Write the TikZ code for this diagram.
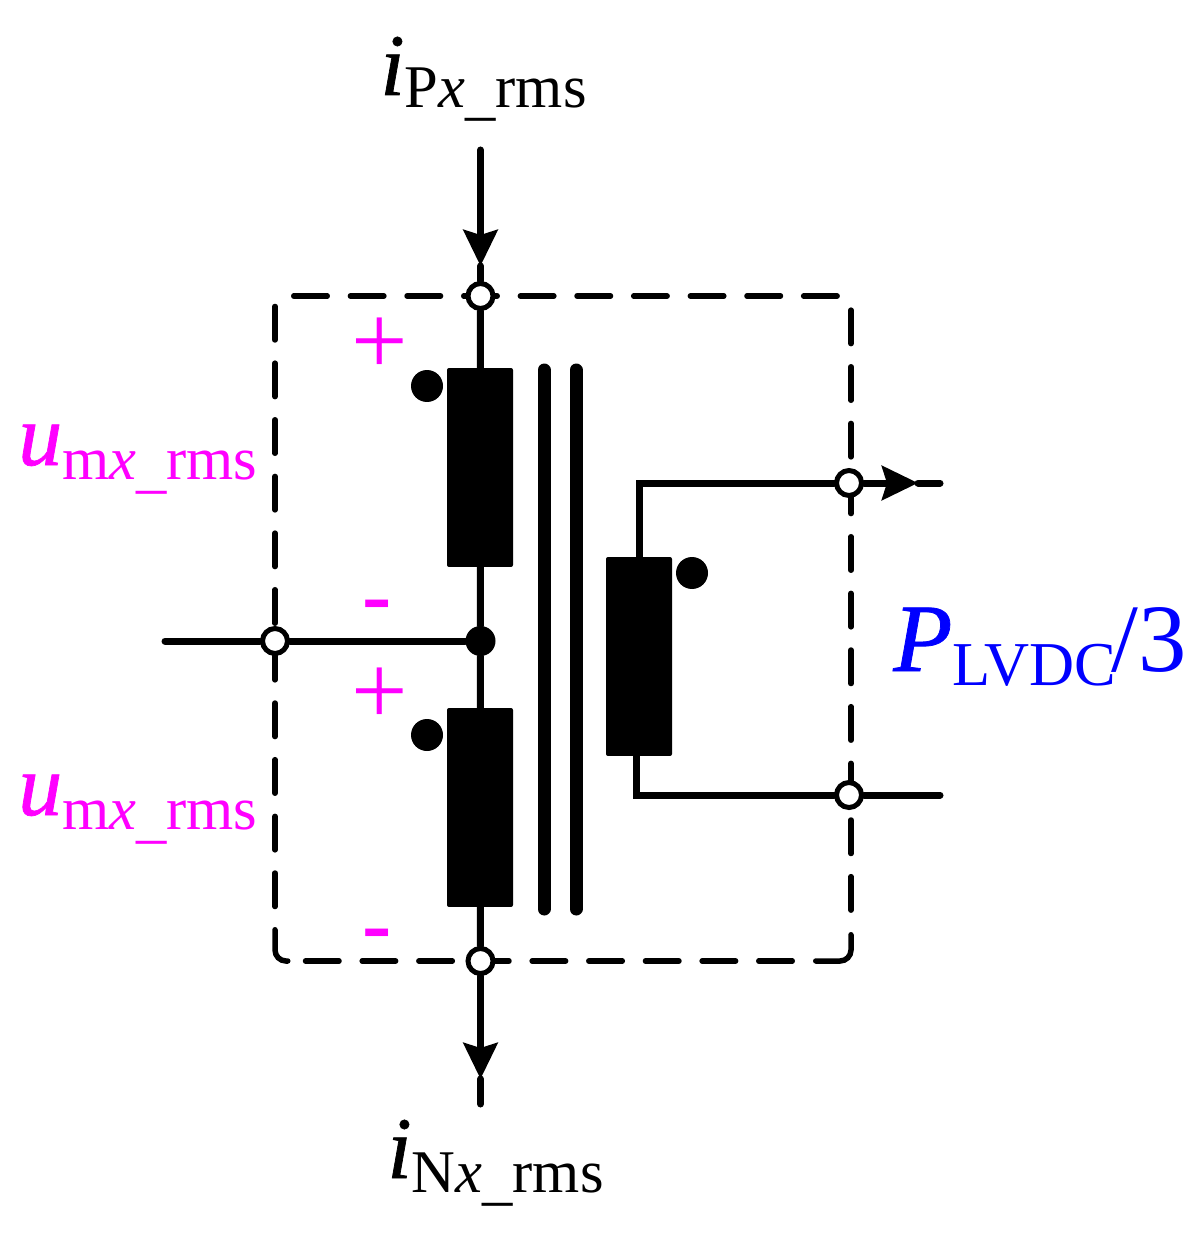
\documentclass[tikz,border=0pt]{standalone}
\usepackage{fontspec}
\setmainfont{Liberation Serif}
\newfontface\heavyitalic[FakeBold=0.8]{Liberation Serif Italic}
\usetikzlibrary{arrows.meta}

\definecolor{voltagecolor}{RGB}{255,0,255}
\definecolor{powercolor}{RGB}{0,0,255}
\newcommand{\mainsub}[4]{{\fontsize{#1}{#1}\heavyitalic #2}\raisebox{#3}{\fontsize{34.5}{34.5}\selectfont #4}}
\newcommand{\lowbar}{\raisebox{-3.5pt}{\_}}

\begin{document}
\begin{tikzpicture}[x=.02cm,y=-.02cm,>={Stealth[length=.72cm,width=.68cm,inset=.1cm]}]
  \useasboundingbox (0,0) rectangle (1201,1236);
  \tikzset{
    wire/.style={line width=.14cm,line cap=round},
    arrowwire/.style={wire,->},
    frameline/.style={line width=.11cm,rounded corners=.22cm,line cap=round},
    frame/.style={frameline,dash pattern=on .67cm off .4633cm},
    winding/.style={rectangle,fill=black,rounded corners=.04cm,minimum width=1.32cm,minimum height=3.98cm,inner sep=0pt},
    core/.style={line width=.26cm,line cap=round},
    terminal/.style={circle,draw,fill=white,line width=.1cm,minimum size=.5cm,inner sep=0pt},
    junction/.style={circle,fill=black,minimum size=.6cm,inner sep=0pt},
    polarity/.style={circle,fill=black,minimum size=.64cm,inner sep=0pt},
    % label styles
    currentlabel/.style={anchor=base west,inner sep=0pt},
    voltagelabel/.style={anchor=base west,inner sep=0pt,text=voltagecolor},
    powerlabel/.style={anchor=base west,inner sep=0pt,text=powercolor},
    signplus/.style={inner sep=0pt,text=voltagecolor,font=\fontsize{57}{57}\selectfont},
    signminus/.style={inner sep=0pt,text=voltagecolor,font=\fontsize{50}{50}\selectfont\bfseries}
  }

  % Frame
  \coordinate (fTopS) at (293.75,296);
  \coordinate (fTR) at (851,296);
  \coordinate (fBR) at (851,961);
  \coordinate (fBL) at (275,961);
  \coordinate (fRightE) at (851,911);
  \coordinate (fHookS) at (851,934.75);
  \coordinate (fHookE) at (815.75,961);
  \coordinate (fBotS) at (792.25,961);
  \coordinate (fBotE) at (301,961);
  \coordinate (fCurlS) at (287.75,961);
  \coordinate (fCurlE) at (275,929.75);
  \coordinate (fLeftS) at (275,906.5);
  \coordinate (fLeftE) at (275,300);
  \draw [frame] (fTopS) -- (fTR) -- (fRightE);
  \draw [frameline] (fHookS) -- (fBR) -- (fHookE);
  \draw [frame] (fBotS) -- (fBotE);
  \draw [frameline] (fCurlS) -- (fBL) -- (fCurlE);
  \draw [frame] (fLeftS) -- (fLeftE);

  % Windings
  \node [winding] (wUp) at (480,467.5) {};
  \node [winding] (wLow) at (480,807.5) {};
  \node [winding] (wSec) at (639,656.5) {};
  \node [polarity] (dUp) at (427,386) {};
  \node [polarity] (dLow) at (427,735) {};
  \node [polarity] (dSec) at (692,573) {};

  % Core
  \coordinate (c1a) at (544,370);
  \coordinate (c1b) at (544,909);
  \coordinate (c2a) at (576,370);
  \coordinate (c2b) at (576,909);
  \draw [core] (c1a) -- (c1b);
  \draw [core] (c2a) -- (c2b);

  % Terminals
  \node [terminal] (tTop) at (480.5,296) {} edge [wire] (wUp);
  \node [terminal] (tBot) at (480.5,961) {} edge [wire] (wLow);
  \node [terminal] (tMid) at (275,641) {};
  \node [terminal] (tOut) at (849,483) {};
  \node [terminal] (tRet) at (849,795) {};
  \node [junction] (jMid) at (480.5,641) {}
  edge [wire] (tMid)
  edge [wire] (wUp)
  edge [wire] (wLow);

  % Leads
  \coordinate (iPin) at (480.5,150);
  \coordinate (iPtip) at (480.5,266);
  \coordinate (iNtip) at (480.5,1079);
  \coordinate (iNend) at (480.5,1104);
  \coordinate (mEnd) at (165,641);
  \coordinate (oTip) at (918,483);
  \coordinate (oEnd) at (940,483);
  \coordinate (rEnd) at (940,795);
  \draw [arrowwire] (iPin) -- (iPtip);
  \draw [wire] (iPtip) -- (tTop);
  \draw [arrowwire] (tBot) -- (iNtip);
  \draw [wire] (iNtip) -- (iNend);
  \draw [wire] (mEnd) -- (tMid);
  \draw [wire] (wSec.north) |- (tOut);
  \draw [arrowwire] (tOut) -- (oTip);
  \draw [wire] (oTip) -- (oEnd);
  \draw [wire] ([xshift=-.05cm]wSec.south) |- (tRet);
  \draw [wire] (tRet) -- (rEnd);

  % Labels
  \node [currentlabel] (iP) at (380,95) {\mainsub{50}{i}{-7pt}{P\textit{x}\lowbar rms}};
  \node [currentlabel] (iN) at (387,1178) {\mainsub{50}{i}{-8pt}{N\textit{x}\lowbar rms}};
  \node [voltagelabel] (uUp) at (18,465) {\mainsub{50}{u}{-8.5pt}{m\textit{x}\lowbar rms}};
  \node [voltagelabel] (uLow) at (18,815) {\mainsub{50}{u}{-8.5pt}{m\textit{x}\lowbar rms}};
  \node [powerlabel] (pow) at (893,671) {\mainsub{55}{P}{-8pt}{\fontsize{35.5}{35.5}\selectfont LVDC}\hspace{-3pt}{\fontsize{55}{55}\selectfont /3}};
  \node [signplus] (pUp) at (380,346) {+};
  \node [signplus] (pLow) at (380,696) {+};
  \node [signminus] (mUp) at (377,612) {-};
  \node [signminus] (mLow) at (377,941) {-};
\end{tikzpicture}
\end{document}
